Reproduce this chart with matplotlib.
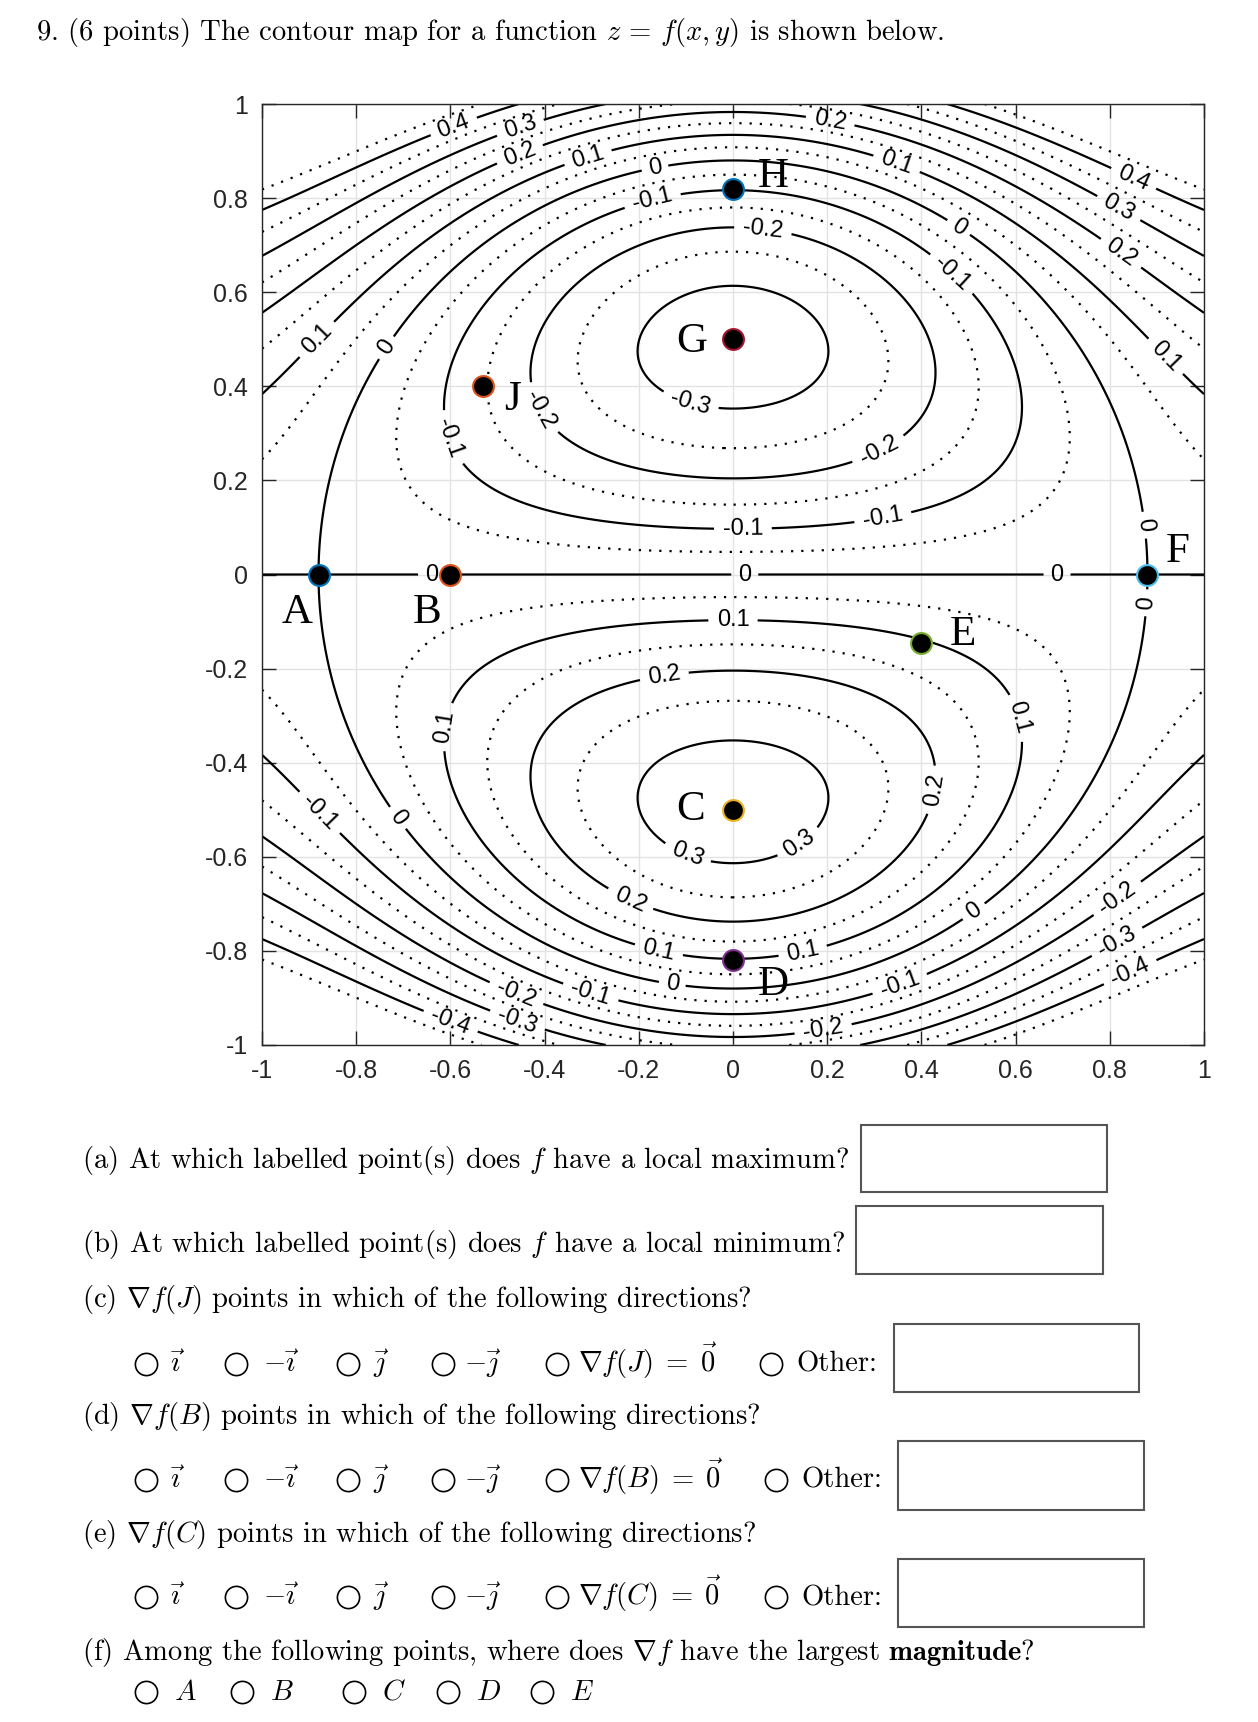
import numpy as np
import matplotlib
matplotlib.use("Agg")
import matplotlib.pyplot as plt
from matplotlib.patches import Rectangle

# ---- contour map values ----
zero_radius = 0.88      # zero contour circle passes through A and F
amplitude = 1.35
decay_x = 0.62
decay_y = 0.25
solid_levels = [-0.4, -0.3, -0.2, -0.1, 0.0, 0.1, 0.2, 0.3, 0.4]
dotted_levels = [-0.45, -0.35, -0.25, -0.15, -0.05, 0.05, 0.15, 0.25, 0.35, 0.45]

# labelled points
point_names = ["A", "B", "J", "G", "H", "C", "D", "E", "F"]
point_x = [-0.88, -0.6, -0.53, 0.0, 0.0, 0.0, 0.0, 0.4, 0.88]
point_y = [0.0, 0.0, 0.4, 0.5, 0.82, -0.5, -0.82, -0.146, 0.0]
point_edge = ["#0072BD", "#D95319", "#D95319", "#A2142F", "#0072BD",
              "#EDB120", "#7E2F8E", "#77AC30", "#4DBEEE"]
name_x = [-0.926, -0.65, -0.469, -0.087, 0.085, -0.091, 0.085, 0.489, 0.945]
name_y = [-0.082, -0.082, 0.371, 0.494, 0.845, -0.50, -0.873, -0.128, 0.048]

# where the contour labels sit
label_spots = [
    (-0.59, 0.945), (-0.452, 0.951), (-0.452, 0.892), (-0.308, 0.887),
    (-0.166, 0.866), (-0.172, 0.80), (-0.887, 0.503), (-0.739, 0.484),
    (-0.60, 0.29), (-0.40, 0.356), (-0.085, 0.386),
    (0.206, 0.962), (0.348, 0.875), (0.064, 0.736), (0.48, 0.739),
    (0.465, 0.64), (0.847, 0.834), (0.817, 0.775), (0.821, 0.679),
    (0.917, 0.462), (0.306, 0.271), (0.318, 0.122), (0.021, 0.101),
    (0.875, 0.105), (0.875, -0.06),
    (-0.64, 0.0), (0.025, 0.0), (0.688, 0.0),
    (0.0, -0.103), (-0.607, -0.324), (-0.144, -0.228), (-0.718, -0.522),
    (-0.883, -0.511), (-0.096, -0.592), (-0.223, -0.702), (-0.159, -0.805),
    (-0.13, -0.877), (-0.304, -0.894), (-0.463, -0.898), (-0.459, -0.951),
    (-0.60, -0.951),
    (0.603, -0.305), (0.425, -0.458), (0.135, -0.564), (0.514, -0.72),
    (0.149, -0.805), (0.815, -0.687), (0.815, -0.78), (0.839, -0.836),
    (0.355, -0.873), (0.191, -0.964),
]

ticks = [-1, -0.8, -0.6, -0.4, -0.2, 0, 0.2, 0.4, 0.6, 0.8, 1]
tick_text = ["-1", "-0.8", "-0.6", "-0.4", "-0.2", "0", "0.2", "0.4", "0.6", "0.8", "1"]

W, H = 1258, 1722
plt.rcParams['mathtext.fontset'] = 'cm'
fig = plt.figure(figsize=(W / 100, H / 100), dpi=100)
ax = fig.add_axes([262 / W, 1 - 1045 / H, 942 / W, 941 / H])

xs = np.linspace(-1, 1, 600)
X, Y = np.meshgrid(xs, xs)
R2 = X ** 2 + Y ** 2
Z = amplitude * Y * (R2 - zero_radius ** 2) * np.exp(-decay_x * X ** 2 - decay_y * Y ** 2)

ax.grid(True, color="#e3e3e3", lw=1.0, zorder=0)
ax.set_axisbelow(True)
ax.contour(X, Y, Z, levels=dotted_levels, colors="black", linewidths=1.6,
           linestyles=[(0, (1, 3.6))], zorder=2)
cs = ax.contour(X, Y, Z, levels=solid_levels, colors="black", linewidths=1.6,
                linestyles="solid", zorder=2)
lbls = ax.clabel(cs, levels=solid_levels, manual=label_spots, inline=True,
                 inline_spacing=6, fmt=lambda v: "%g" % v, fontsize=17)
for t in lbls:
    t.set_fontfamily("Liberation Sans")

for px, py, ec in zip(point_x, point_y, point_edge):
    ax.plot(px, py, "o", ms=15, mfc="black", mec=ec, mew=1.5, zorder=5)
for nm, nx, ny in zip(point_names, name_x, name_y):
    ax.text(nx, ny, nm, fontsize=31, family="Liberation Serif",
            ha="center", va="center", zorder=6)

ax.set_xlim(-1, 1)
ax.set_ylim(-1, 1)
ax.set_xticks(ticks)
ax.set_xticklabels(tick_text)
ax.set_yticks(ticks)
ax.set_yticklabels(tick_text)
ax.tick_params(direction="in", length=10, width=1, top=True, right=True,
               labelsize=18, colors="#262626", pad=10)
for lab in ax.get_xticklabels() + ax.get_yticklabels():
    lab.set_fontfamily("Liberation Sans")
for s in ax.spines.values():
    s.set_color("#262626")
    s.set_linewidth(1.0)

# ---- question text ----
ov = fig.add_axes([0, 0, 1, 1])
ov.set_xlim(0, W)
ov.set_ylim(H, 0)
ov.axis("off")
fs = 20.6
tx = dict(fontsize=fs, family="cmr10", va="baseline", ha="left")

ov.text(36, 40, r"9. (6 points) The contour map for a function $z \,=\, f(x, y)$ is shown below.", **tx)
ov.text(82, 1168, r"(a) At which labelled point(s) does $f$ have a local maximum?", **tx)
ov.text(82, 1252, r"(b) At which labelled point(s) does $f$ have a local minimum?", **tx)
ov.text(82, 1307, r"(c) $\nabla f(J)$ points in which of the following directions?", **tx)
ov.text(82, 1424, r"(d) $\nabla f(B)$ points in which of the following directions?", **tx)
ov.text(82, 1542, r"(e) $\nabla f(C)$ points in which of the following directions?", **tx)
ov.text(82, 1660, r"(f) Among the following points, where does $\nabla f$ have the largest $\mathbf{magnitude}$?", **tx)

boxes = [(861, 1125, 246, 67), (856, 1206, 247, 68), (894, 1324, 245, 68),
         (898, 1441, 246, 69), (898, 1559, 246, 68)]
for bx, by, bw, bh in boxes:
    ov.add_patch(Rectangle((bx, by), bw, bh, fill=False, ec="#555555", lw=1.5))

opt_circles = [146, 236, 348, 443, 557]
opt_text_x = [170, 263, 373, 464, 578]
option_rows = [(1364, "J", 771), (1480, "B", 776), (1597, "C", 776)]
for cy, who, other_x in option_rows:
    labels = [r"$\vec{\imath}$", r"$-\vec{\imath}$", r"$\vec{\jmath}$", r"$-\vec{\jmath}$",
              r"$\nabla f(%s) \;=\; \vec{0}$" % who]
    for cx, lx, lab in zip(opt_circles, opt_text_x, labels):
        ov.plot(cx, cy, "o", ms=16, mfc="none", mec="black", mew=1.2)
        ov.text(lx, cy + 8, lab, **tx)
    ov.plot(other_x, cy, "o", ms=16, mfc="none", mec="black", mew=1.2)
    ov.text(other_x + 25, cy + 8, "Other:", **tx)

f_circles = [146, 242, 354, 448, 542]
f_names = ["A", "B", "C", "D", "E"]
for cx, nm in zip(f_circles, f_names):
    ov.plot(cx, 1692, "o", ms=16, mfc="none", mec="black", mew=1.2)
    ov.text(cx + 28, 1700, "$%s$" % nm, **tx)

fig.savefig("out.png", dpi=100)
